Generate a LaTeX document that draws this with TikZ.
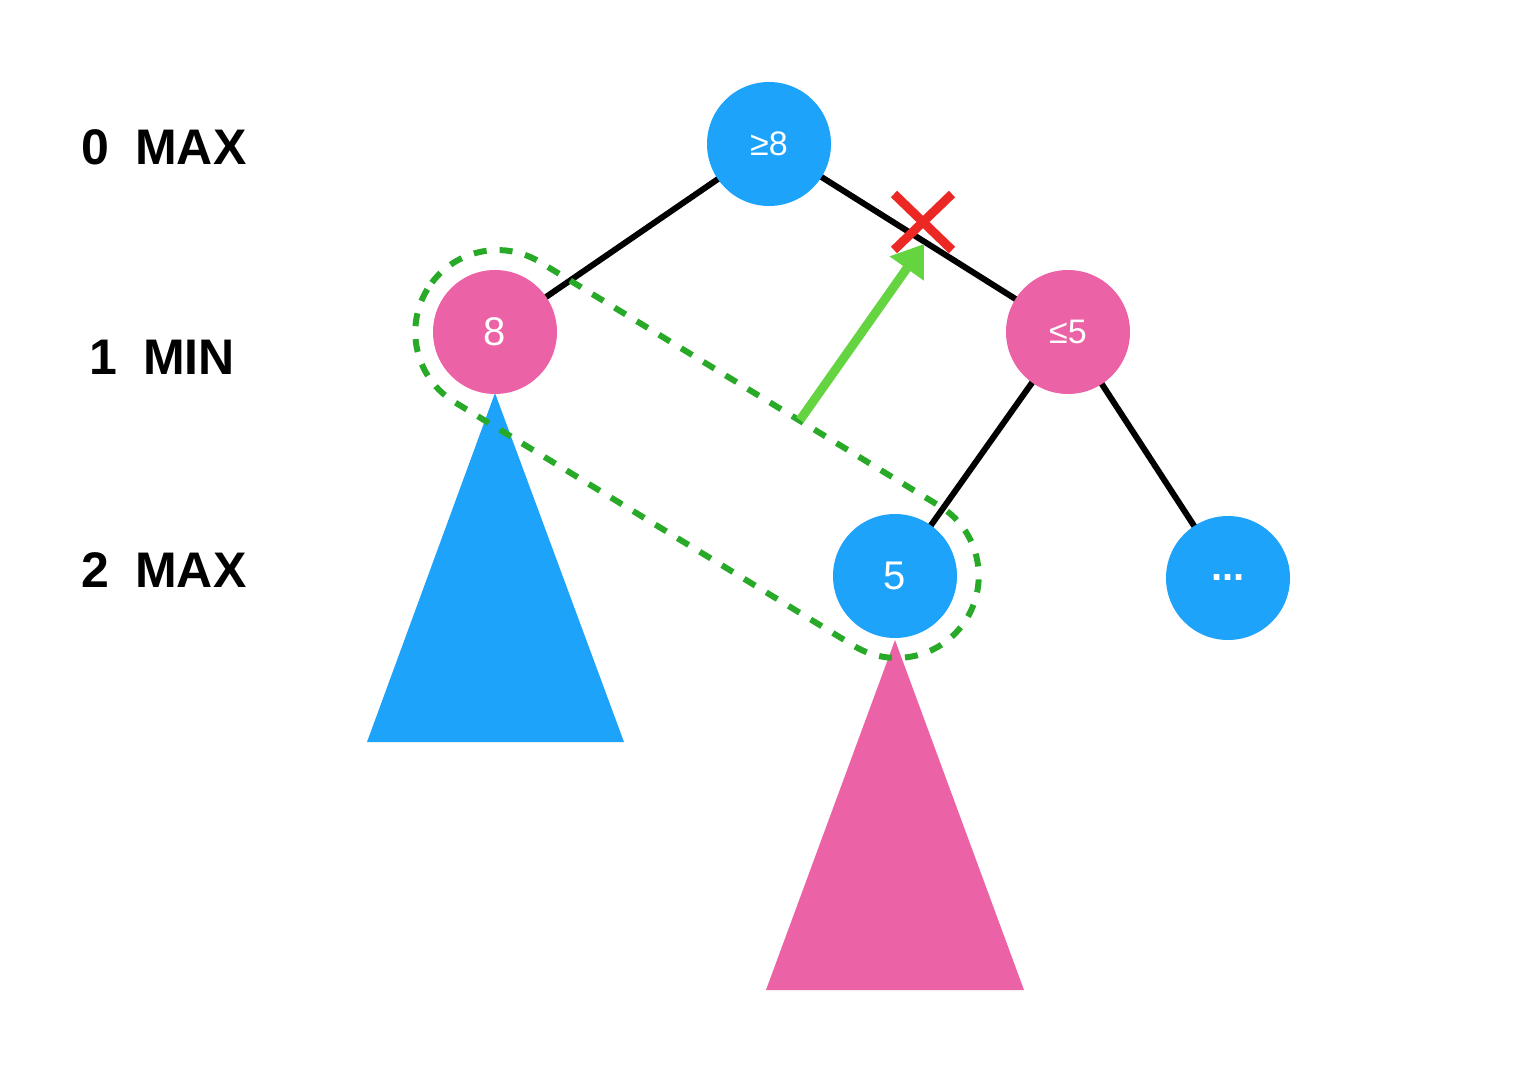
\documentclass[tikz,border=0pt]{standalone}
\usepackage{fontspec}
\setmainfont{Liberation Sans}
\usetikzlibrary{arrows.meta}
\definecolor{nblue}{RGB}{30,163,250}
\definecolor{npink}{RGB}{236,98,166}
\definecolor{dgreen}{RGB}{40,170,40}
\definecolor{lgreen}{RGB}{100,212,64}
\definecolor{xred}{RGB}{236,40,36}
\begin{document}
\begin{tikzpicture}[x=1pt,y=-1pt,
  nd/.style={circle,minimum size=124pt,inner sep=0pt,text=white,font=\fontsize{40}{40}\selectfont},
  edge/.style={line width=6pt,black},
  lvl/.style={font=\bfseries\fontsize{50}{50}\selectfont,anchor=west}]
\useasboundingbox (0,0) rectangle (1516,1078);
\fill[nblue] (495,393) -- (624,742) -- (367,742) -- cycle;
\fill[npink] (895,640) -- (1024,990) -- (766,990) -- cycle;
\coordinate (r) at (769,144);
\coordinate (a) at (495,332);
\coordinate (b) at (1068,332);
\coordinate (c) at (895,576);
\coordinate (d) at (1228,578);
\draw[edge] (r) -- (a);
\draw[edge] (r) -- (b);
\draw[edge] (b) -- (c);
\draw[edge] (b) -- (d);
\node[nd,fill=nblue,font=\fontsize{34}{34}\selectfont] (R) at (r) {≥8};
\node[nd,fill=npink] (A) at (a) {8};
\node[nd,fill=npink,font=\fontsize{34}{34}\selectfont] (B) at (b) {≤5};
\node[nd,fill=nblue] (C) at (c) {5};
\node[nd,fill=nblue,font=\bfseries\fontsize{40}{40}\selectfont] (D) at (d) {...};
\draw[dgreen,line width=6pt,dash pattern=on 13pt off 13pt,rounded corners=82pt,
  shift={(697,454)},rotate=-31.4]
  (-316,-82) rectangle (316,82);
\coordinate (g1) at (800,420);
\coordinate (g2) at (924,244);
\draw[lgreen,line width=9pt,-{Triangle[length=30pt,width=40pt]}] (g1) -- (g2);
\draw[xred,line width=9pt] (894,194) -- (952,250) (952,194) -- (894,250);
\node[lvl] (l0) at (78,147) {0\hspace{26pt}MAX};
\node[lvl] (l1) at (86,357) {1\hspace{26pt}MIN};
\node[lvl] (l2) at (78,570) {2\hspace{26pt}MAX};
\end{tikzpicture}
\end{document}
